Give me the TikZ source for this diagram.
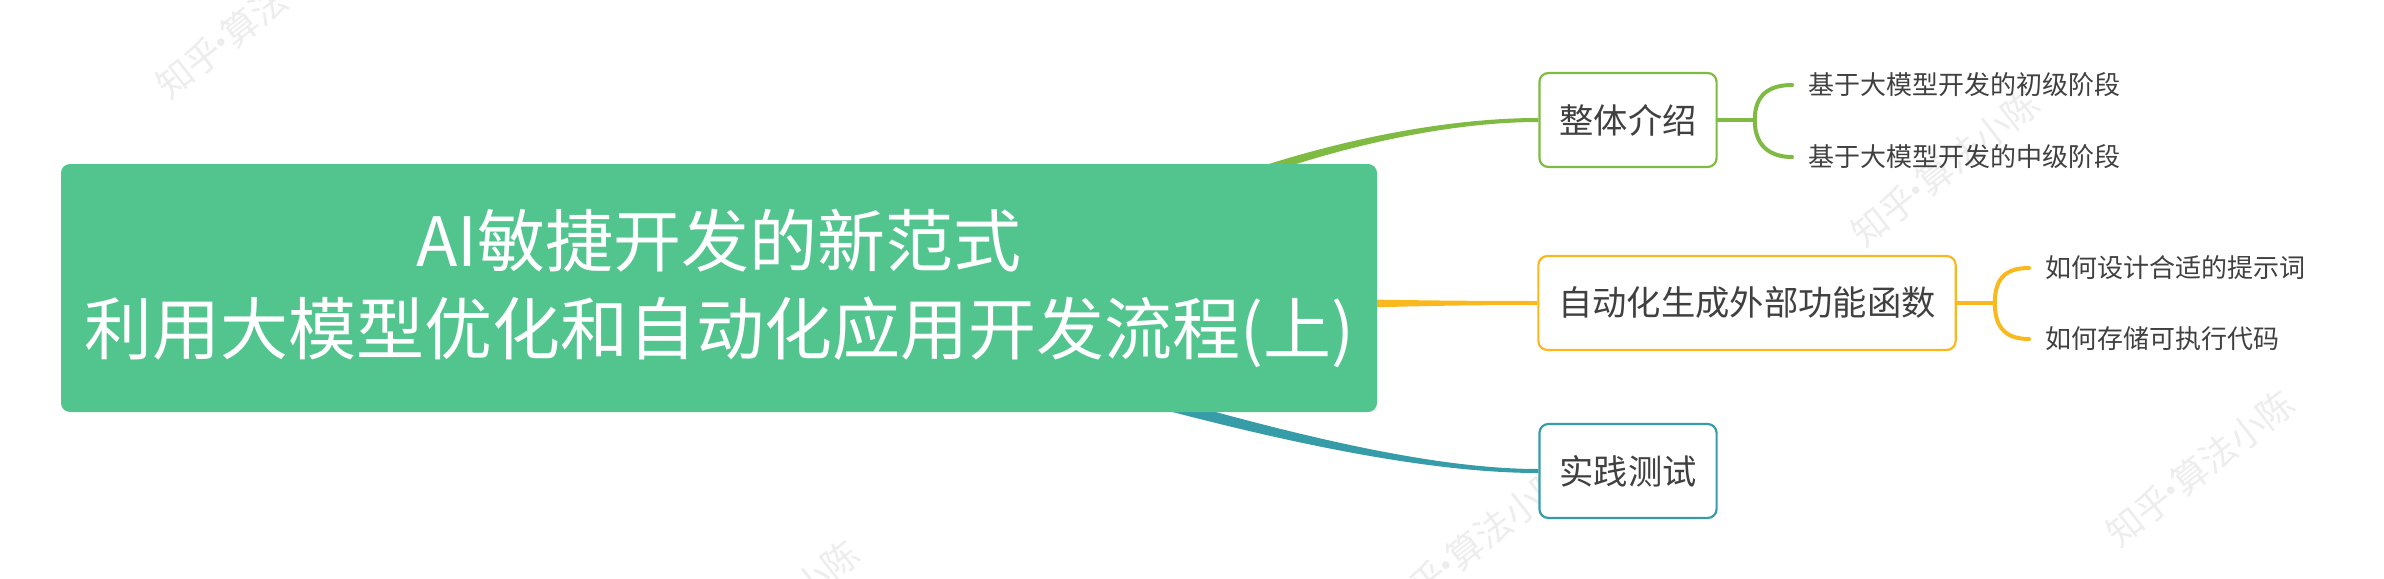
\documentclass[tikz,border=0pt]{standalone}
\usepackage{fontspec}
\setmainfont{Noto Sans CJK SC}
\usetikzlibrary{calc,backgrounds}

\definecolor{rootgreen}{HTML}{52C48E}
\definecolor{introgreen}{HTML}{7FBA42}
\definecolor{autoorange}{HTML}{F8B81E}
\definecolor{testteal}{HTML}{369CA8}
\definecolor{textgray}{HTML}{404040}
\definecolor{wmgray}{HTML}{EDEDED}

\tikzset{
  rootbox/.style={fill=rootgreen, rounded corners=9pt, text=white, align=center,
    minimum width=1316pt, minimum height=248pt, font=\fontsize{68}{88}\selectfont},
  topicbox/.style={draw=#1, line width=2.2pt, rounded corners=9pt, fill=white,
    text=textgray, minimum height=94pt, inner xsep=20pt, font=\fontsize{34.3}{40}\selectfont},
  leafnode/.style={text=textgray, anchor=west, inner xsep=16pt, font=\fontsize{26}{30}\selectfont},
  brace/.style={draw=#1, line width=4pt, line cap=round},
  wmark/.style={text=wmgray, rotate=38, font=\fontsize{36}{36}\selectfont},
}

\begin{document}
\begin{tikzpicture}[x=1pt,y=-1pt]
\useasboundingbox (0,0) rectangle (2384,578);

% main topic and branches
\node[rootbox] (root) at (719,288) {AI敏捷开发的新范式\\利用大模型优化和自动化应用开发流程(上)};
\node[topicbox=introgreen] (intro) at (1628,120) {整体介绍};
\node[topicbox=autoorange] (auto) at (1747,303) {自动化生成外部功能函数};
\node[topicbox=testteal] (test) at (1628,471) {实践测试};

% subtopics
\node[leafnode] (basic) at (1792,85) {基于大模型开发的初级阶段};
\node[leafnode] (middle) at (1792,157) {基于大模型开发的中级阶段};
\node[leafnode] (prompt) at (2029,268) {如何设计合适的提示词};
\node[leafnode] (store) at (2029,339) {如何存储可执行代码};

\begin{scope}[on background layer]
  \foreach \wx/\wy [count=\i] in {250/20, 1945/168, 2200/468, 1475/543, 765/618}
    \node[wmark] (wm\i) at (\wx,\wy) {知乎\kern-.35em·\kern-.35em算法小陈};
  % tapered branches
  \fill[introgreen] ($(root.center)+(280,7)$) .. controls +(150,-110) and +(-160,0) .. ($(intro.west)+(0,-2)$)
    -- ($(intro.west)+(0,2)$) .. controls +(-160,0) and +(150,-110) .. ($(root.center)+(280,21)$) -- cycle;
  \fill[autoorange] ($(root.center)+(480,10)$) .. controls +(150,0) and +(-150,0) .. ($(auto.west)+(0,-2)$)
    -- ($(auto.west)+(0,2)$) .. controls +(-150,0) and +(150,0) .. ($(root.center)+(480,22)$) -- cycle;
  \fill[testteal] ($(root.center)+(280,61)$) .. controls +(200,60) and +(-140,0) .. ($(test.west)+(0,-2)$)
    -- ($(test.west)+(0,2)$) .. controls +(-140,0) and +(200,60) .. ($(root.center)+(280,75)$) -- cycle;
\end{scope}

\draw[brace=introgreen] (intro.east) -- ++(37,0) coordinate (jintro);
\draw[brace=introgreen] (jintro) .. controls +(0,-26) and +(-22,0) .. (basic.west);
\draw[brace=introgreen] (jintro) .. controls +(0,26) and +(-22,0) .. (middle.west);
\draw[brace=autoorange] (auto.east) -- ++(38,0) coordinate (jauto);
\draw[brace=autoorange] (jauto) .. controls +(0,-26) and +(-22,0) .. (prompt.west);
\draw[brace=autoorange] (jauto) .. controls +(0,26) and +(-22,0) .. (store.west);
\end{tikzpicture}
\end{document}
